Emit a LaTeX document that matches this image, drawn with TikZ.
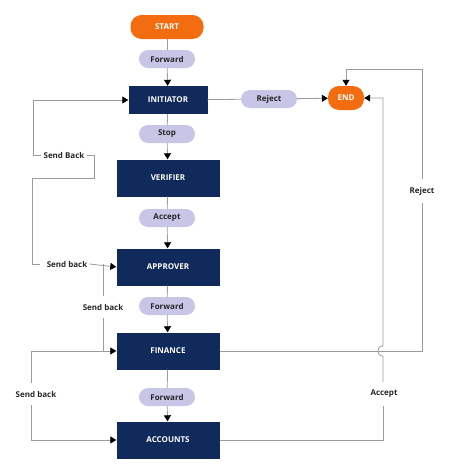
\documentclass[tikz,border=0pt]{standalone}
\usepackage{fontspec}
\setmainfont{Open Sans}
\usetikzlibrary{arrows.meta}
\definecolor{navy}{HTML}{102A5C}
\definecolor{flame}{HTML}{F36C10}
\definecolor{lilac}{HTML}{C8C6E7}
\definecolor{wire}{HTML}{9C9C9C}
\begin{document}
\begin{tikzpicture}[x=1pt,y=-1pt,font=\bfseries\fontsize{8}{9.5}\selectfont,
	role/.style={fill=navy,text=white,minimum width=103pt,minimum height=37pt,inner sep=0pt},
	term/.style={fill=flame,text=white,rounded corners=11pt,minimum height=24pt,inner sep=0pt},
	act/.style={fill=lilac,text=black!85,rounded corners=9pt,minimum width=56pt,minimum height=18pt,inner sep=0pt},
	note/.style={text=black!85,inner xsep=2pt,inner ysep=8pt},
	wire/.style={draw=wire,line width=0.8pt},
	tip/.style={wire,-{Triangle[length=6pt,width=7pt,color=black]}}]
	\useasboundingbox (0,0) rectangle (474,474);
	% main column
	\node[term,minimum width=73pt] (start) at (167,27) {START};
	\node[act] (fwdA) at (167,59) {Forward};
	\node[role,minimum width=79pt,minimum height=28pt] (initiator) at (168,100) {INITIATOR};
	\node[act] (stop) at (167,134) {Stop};
	\node[role] (verifier) at (168,178) {VERIFIER};
	\node[act] (accept) at (167,218) {Accept};
	\node[role] (approver) at (168,267) {APPROVER};
	\node[act] (fwdB) at (167,306) {Forward};
	\node[role] (finance) at (168,351) {FINANCE};
	\node[act] (fwdC) at (167,397) {Forward};
	\node[role] (accounts) at (168,440) {ACCOUNTS};
	% end and right side
	\node[act] (rejectA) at (269,99) {Reject};
	\node[term,minimum width=36pt] (end) at (346,98) {END};
	\node[note] (rejectB) at (422,191) {Reject};
	\node[note] (acceptB) at (384,394) {Accept};
	% left side
	\node[note] (backA) at (64,155) {Send Back};
	\node[note] (backB) at (67,264) {Send back};
	\node[note] (backC) at (103,307) {Send back};
	\node[note] (backD) at (36,394) {Send back};

	\draw[wire] (start) -- (fwdA);
	\draw[tip] (fwdA) -- (initiator);
	\draw[wire] (initiator) -- (stop);
	\draw[tip] (stop) -- (verifier);
	\draw[wire] (verifier) -- (accept);
	\draw[tip] (accept) -- (approver);
	\draw[wire] (approver) -- (fwdB);
	\draw[tip] (fwdB) -- (finance);
	\draw[wire] (finance) -- (fwdC);
	\draw[tip] (fwdC) -- (accounts);
	\draw[wire] (initiator) -- (rejectA);
	\draw[tip] (rejectA) -- (end);
	% reject from finance
	\draw[wire] (finance.east) -- (422,351) -- (rejectB.south);
	\draw[tip] (rejectB.north) -- (422,69) -| (end.north);
	% accept from accounts, hopping over
	\draw[wire] (accounts.east) -| (383,0 |- acceptB.south);
	\draw[tip] (383,0 |- acceptB.north) -- (383,356)
		.. controls +(-7,0) and +(-7,0) .. (383,346) -- (383,98) -- (end.east);
	% send back lines
	\draw[tip] (backA.west) -- (33,155) |- (initiator.west);
	\draw[wire] (backA.east) -- (94,155) -- (94,178) -- (32,178) -- (32,264) -- (40,264);
	\draw[tip] (backB.east) -- (approver.west);
	\draw[wire] (backC.north) -- (103,264);
	\draw[wire] (backC.south) -- (103,351);
	\draw[tip] (31,351) -- (finance.west);
	\draw[wire] (31,351) -- (31,0 |- backD.north);
	\draw[tip] (31,0 |- backD.south) |- (accounts.west);
\end{tikzpicture}
\end{document}
